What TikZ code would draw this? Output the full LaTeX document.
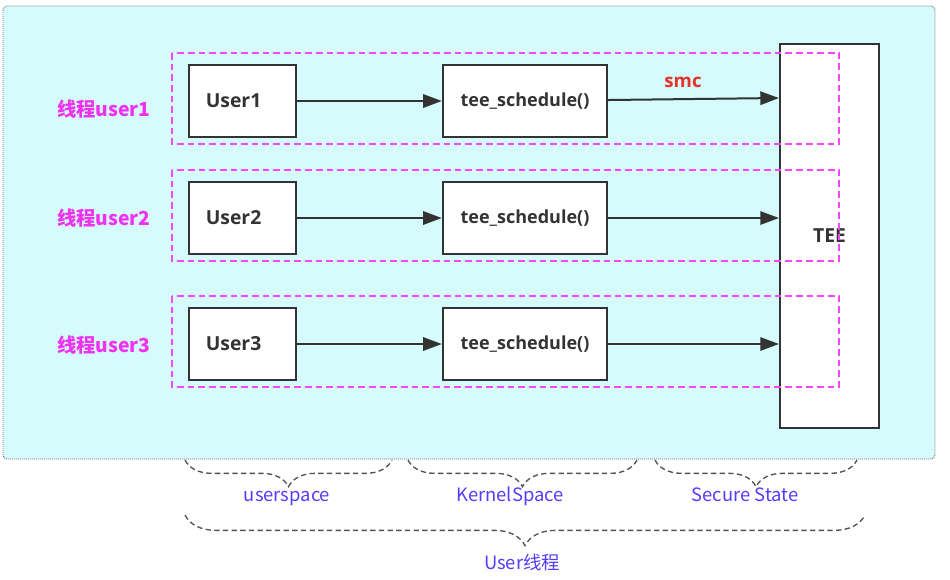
\documentclass[tikz,border=0pt]{standalone}
\usepackage{fontspec}
\setmainfont{Open Sans}
\newfontfamily\cjk{Noto Sans CJK SC}
\usepackage{tikz}
\usetikzlibrary{positioning}
\usetikzlibrary{arrows.meta}
\usetikzlibrary{decorations.pathreplacing}
\usepackage{xcolor}
\definecolor{bgcyan}{RGB}{213,251,252}
\definecolor{dotgray}{RGB}{110,110,110}
\definecolor{dark}{RGB}{51,51,51}
\definecolor{pinkline}{RGB}{250,70,250}
\definecolor{pinktext}{RGB}{240,50,240}
\definecolor{smcred}{RGB}{230,50,40}
\definecolor{bluetext}{RGB}{85,60,255}

\begin{document}
\begin{tikzpicture}[x=0.75pt, y=-0.75pt,
		box/.style = {draw=dark, line width=1.8pt, fill=white, text=dark, inner sep=0pt, minimum height=54pt},
		ubox/.style = {box, minimum width=80pt, inner xsep=12.5pt, text width=55pt, align=left, font=\bfseries\fontsize{14.5}{17}\selectfont},
		grp/.style = {draw=pinkline, line width=0.8pt, dash pattern=on 5pt off 3pt},
		arr/.style = {-{Triangle[length=14pt, width=10pt]}, draw=dark, line width=1.5pt},
		lbl/.style = {text=pinktext, font=\cjk\bfseries\fontsize{14.5}{17}\selectfont},
		brc/.style = {decorate, draw=dark!85, line width=1pt, dash pattern=on 4pt off 2.5pt},
		sub/.style = {text=bluetext, text height=9.5pt, text depth=3pt, font=\cjk\fontsize{13.8}{16}\selectfont},
		]
		\useasboundingbox (0,0) rectangle (950,579);
		
		% background
		\draw[draw=dotgray, line width=0.7pt, dash pattern=on 0.7pt off 0.8pt, fill=bgcyan, rounded corners=3pt] (3,6) rectangle (935,459);
		
		\node[box, minimum width=74pt, minimum height=288pt, font=\bfseries\fontsize{14.5}{17}\selectfont] (tee) at (829.5,236) {TEE};
		
		\foreach \i/\y/\ly in {1/101/109, 2/218/218, 3/344/345}{
			\draw[grp] (172,\y-48) rectangle (839,\y+43);
			\node[ubox] (user\i) at (242.5,\y) {User\i};
			\node[box, minimum width=123pt, font=\bfseries\fontsize{13.5}{16}\selectfont] (sched\i) at (525,\y) {tee\_schedule()};
			\node[lbl] (thread\i) at (104,\ly) {线程user\i};
			\draw[arr] (user\i) -- (sched\i);
		}
		
		% smc goes slightly upwards
		\draw[arr] (sched1) -- ([yshift=2.25pt]sched1.east -| tee.west);
		\draw[arr] (sched2) -- (sched2.east -| tee.west);
		\draw[arr] (sched3) -- (sched3.east -| tee.west);
		
		\node[text=smcred, font=\bfseries\fontsize{14}{17}\selectfont] (smc) at (683,82) {smc};
		
		% braces
		\draw[brc, decoration={brace, mirror, amplitude=20pt}] (185,460) -- (392,460);
		\draw[brc, decoration={brace, mirror, amplitude=20pt}] (408,460) -- (637,460);
		\draw[brc, decoration={brace, mirror, amplitude=20pt}] (655,460) -- (857,460);
		\draw[brc, decoration={brace, mirror, amplitude=23pt}] (185,515) -- (865,515);
		
		\node[sub] (uspace) at (287,497) {userspace};
		\node[sub] (kspace) at (510,497) {KernelSpace};
		\node[sub] (secure) at (745,497) {Secure State};
		\node[sub] (uthread) at (522,565) {User线程};
	\end{tikzpicture}
\end{document}
